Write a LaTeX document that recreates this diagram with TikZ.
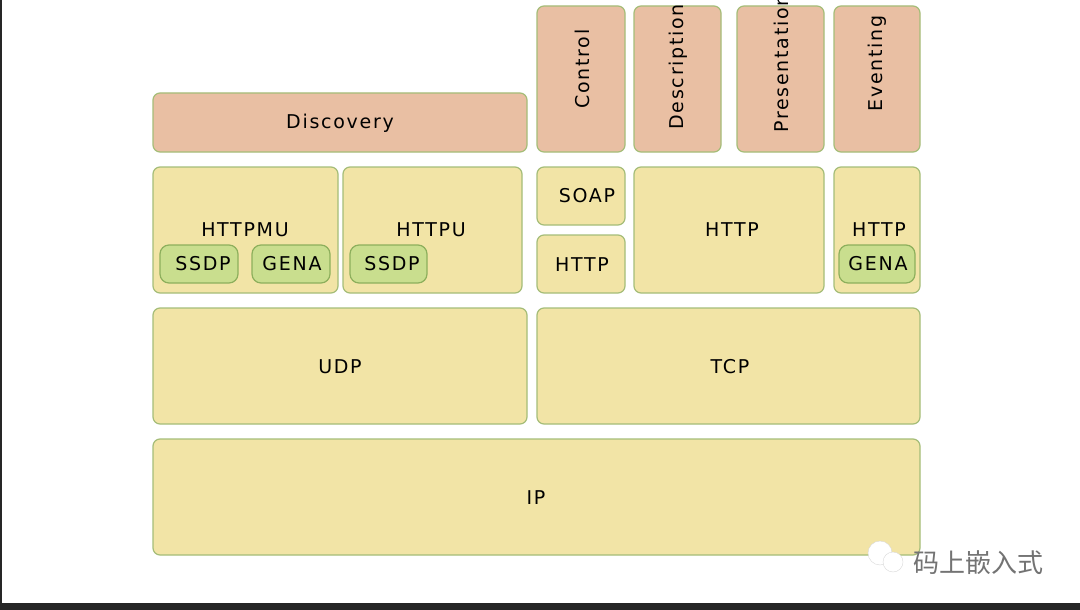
\documentclass[tikz,border=0pt]{standalone}
\usepackage{fontspec}
\setmainfont{DejaVu Sans}[LetterSpace=9]
\newfontfamily\cjk{Noto Sans CJK SC}
\definecolor{sal}{HTML}{E9BFA3}
\definecolor{yel}{HTML}{F2E4A6}
\definecolor{bord}{HTML}{A5BD78}
\definecolor{pill}{HTML}{C9DE8E}
\definecolor{pillb}{HTML}{8DAF5C}
\begin{document}
\begin{tikzpicture}[x=1pt,y=-1pt,
 box/.style={draw=bord,line width=1.2pt,rounded corners=7pt},
 lay/.style={box,fill=yel},
 app/.style={box,fill=sal},
 pl/.style={draw=pillb,line width=1.2pt,fill=pill,rounded corners=9pt},
 lbl/.style={font=\fontsize{19}{20}\selectfont}]
\useasboundingbox (0,0) rectangle (1080,610);
\fill[white] (0,0) rectangle (1080,610);
\fill[black!85] (0,0) rectangle (2,610);
\fill[black!85] (0,603) rectangle (1080,610);
\begin{scope}
\clip (0,0) rectangle (1080,603);
\draw[app] (153,93) rectangle (527,152); \node[lbl] (disc) at (340,123) {Discovery};
\draw[app] (537,6) rectangle (625,152); \node[lbl,rotate=90,anchor=west] (ctl) at (582,112) {Control};
\draw[app] (634,6) rectangle (721,152); \node[lbl,rotate=90,anchor=west] (desc) at (678,133) {Description};
\draw[app] (737,6) rectangle (824,152); \node[lbl,rotate=90,anchor=west] (pres) at (781,136) {Presentation};
\draw[app] (834,6) rectangle (920,152); \node[lbl,rotate=90,anchor=west] (evt) at (877,115) {Eventing};
\end{scope}
\draw[lay] (153,167) rectangle (338,293); \node[lbl] (httpmu) at (245,230) {HTTPMU};
\draw[lay] (343,167) rectangle (522,293); \node[lbl] (httpu) at (431,230) {HTTPU};
\draw[lay] (537,167) rectangle (625,225); \node[lbl] (soap) at (587,196) {SOAP};
\draw[lay] (537,235) rectangle (625,293); \node[lbl] (http1) at (582,265) {HTTP};
\draw[lay] (634,167) rectangle (824,293); \node[lbl] (http2) at (732,230) {HTTP};
\draw[lay] (834,167) rectangle (920,293); \node[lbl] (http3) at (879,230) {HTTP};
\draw[pl] (160,245) rectangle (238,283); \node[lbl] (s1) at (203,264) {SSDP};
\draw[pl] (252,245) rectangle (330,283); \node[lbl] (g1) at (292,264) {GENA};
\draw[pl] (350,245) rectangle (427,283); \node[lbl] (s2) at (392,264) {SSDP};
\draw[pl] (839,245) rectangle (915,283); \node[lbl] (g2) at (878,264) {GENA};
\draw[lay] (153,308) rectangle (527,424); \node[lbl] (udp) at (340,367) {UDP};
\draw[lay] (537,308) rectangle (920,424); \node[lbl] (tcp) at (730,367) {TCP};
\draw[lay] (153,439) rectangle (920,555); \node[lbl] (ip) at (536,498) {IP};
\draw[black!15,fill=white] (880,553) circle (12); \draw[black!15,fill=white] (893,562) circle (10);
\node[font=\cjk\fontsize{26}{28}\selectfont,text=black!55] (wm) at (978,563) {码上嵌入式};
\end{tikzpicture}
\end{document}
